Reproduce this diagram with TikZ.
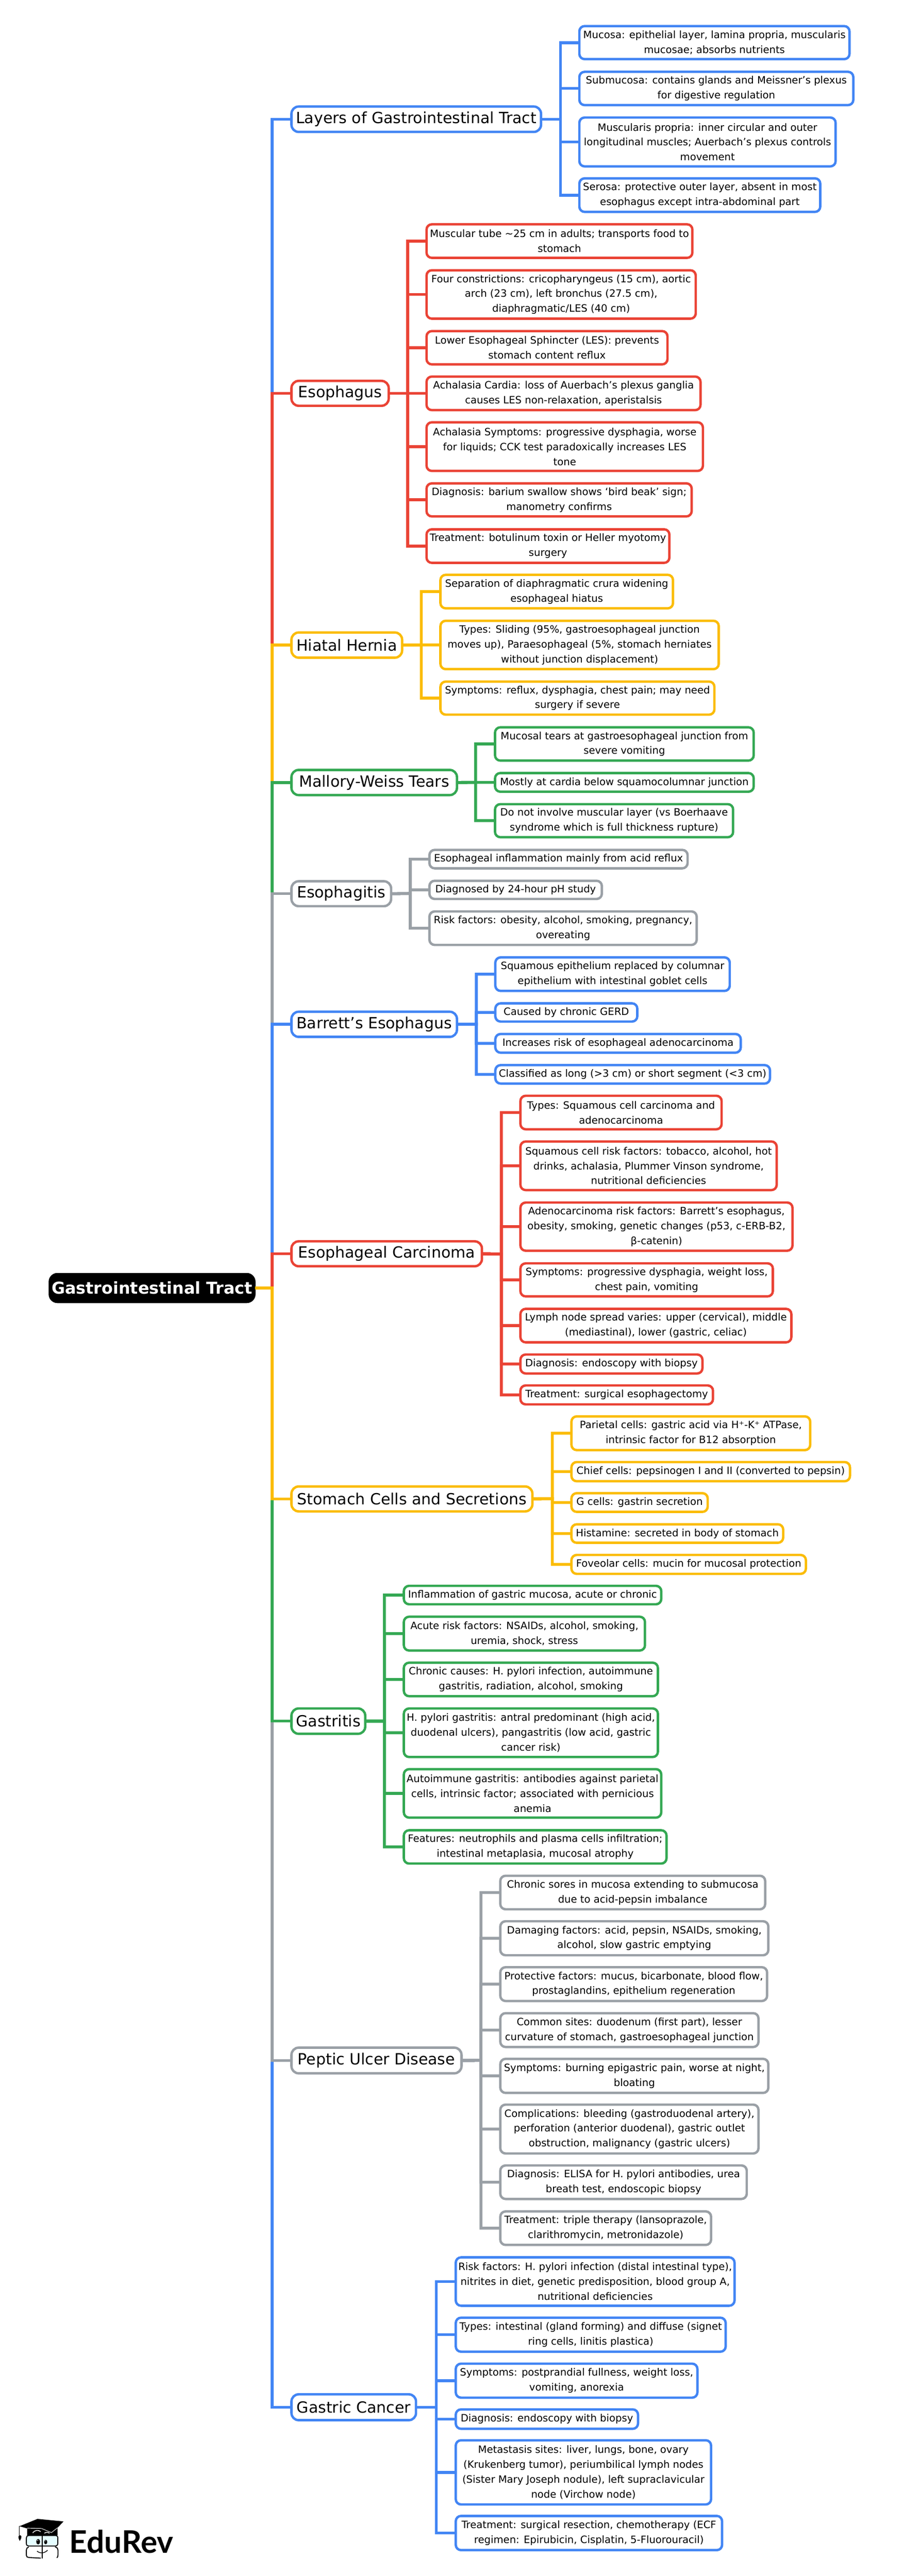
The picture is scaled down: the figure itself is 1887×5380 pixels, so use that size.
\documentclass[tikz,border=0pt]{standalone}
\usepackage{fontspec}
\setmainfont{DejaVu Sans}
\newfontfamily\logofont{Lato}
\definecolor{gblue}{HTML}{4285F4}
\definecolor{gred}{HTML}{EA4335}
\definecolor{gyellow}{HTML}{FBBC05}
\definecolor{ggreen}{HTML}{34A853}
\definecolor{ggray}{HTML}{9AA0A6}
\tikzset{
  basebox/.style={rectangle,rounded corners=11pt,line width=5pt,fill=white,inner sep=0pt,outer sep=0pt,align=center,text=black},
  leafbox/.style={basebox,font={\fontsize{21.1}{31}\selectfont}},
  headbox/.style={basebox,rounded corners=15pt,font={\fontsize{32.2}{38}\selectfont}},
  rootbox/.style={basebox,rounded corners=18pt,fill=black,text=white,line width=1pt,font={\fontsize{34.2}{40}\selectfont\bfseries}},
  lk/.style={line width=6pt,line join=miter,line cap=butt},
}
\newcommand{\mm}[8]{%
  \pgfmathsetmacro{\mmW}{#6-#4-5}%
  \pgfmathsetmacro{\mmH}{#7-#5-5}%
  \pgfmathsetmacro{\mmX}{(#4+#6)/2}%
  \pgfmathsetmacro{\mmY}{(#5+#7)/2}%
  \node[#1,draw=#2,minimum width=\mmW pt,minimum height=\mmH pt] (#3) at (\mmX,\mmY) {#8};}
\begin{document}
\begin{tikzpicture}[x=1pt,y=-1pt]
\useasboundingbox (0,0) rectangle (1887,5380);
% ---------- root and main branches
\node[rootbox,draw=black,minimum width=431pt,minimum height=62pt] (root) at (317.5,2690) {Gastrointestinal Tract};
\coordinate (tr) at (568,2690);
\mm{headbox}{gblue}{L}{606}{220}{1132}{278}{Layers of Gastrointestinal Tract}
\mm{headbox}{gred}{E}{606}{793}{814}{850}{Esophagus}
\mm{headbox}{gyellow}{H}{606}{1318.5}{842}{1376}{Hiatal Hernia}
\mm{headbox}{ggreen}{M}{606}{1605.5}{956.5}{1663}{Mallory-Weiss Tears}
\mm{headbox}{ggray}{G}{606}{1838}{819}{1895}{Esophagitis}
\mm{headbox}{gblue}{B}{606}{2110.5}{956.5}{2168}{Barrett’s Esophagus}
\mm{headbox}{gred}{C}{606}{2590}{1008.6}{2647}{Esophageal Carcinoma}
\mm{headbox}{gyellow}{S}{606}{3102}{1114}{3159}{Stomach Cells and Secretions}
\mm{headbox}{ggreen}{T}{606}{3565.6}{765}{3623.5}{Gastritis}
\mm{headbox}{ggray}{P}{606}{4274}{966}{4332.6}{Peptic Ulcer Disease}
\mm{headbox}{gblue}{R}{606}{4998}{871}{5057}{Gastric Cancer}
% ---------- leaves
\mm{leafbox}{gblue}{L1}{1207}{52}{1776}{126}{Mucosa: epithelial layer, lamina propria, muscularis\\mucosae; absorbs nutrients}
\mm{leafbox}{gblue}{L2}{1207}{147.5}{1784}{222}{Submucosa: contains glands and Meissner’s plexus\\for digestive regulation}
\mm{leafbox}{gblue}{L3}{1207}{243}{1747}{350}{Muscularis propria: inner circular and outer\\longitudinal muscles; Auerbach’s plexus controls\\movement}
\mm{leafbox}{gblue}{L4}{1207}{370}{1715}{445}{Serosa: protective outer layer, absent in most\\esophagus except intra-abdominal part}
\mm{leafbox}{gred}{E1}{888}{466}{1448}{541}{Muscular tube \textasciitilde25 cm in adults; transports food to\\stomach}
\mm{leafbox}{gred}{E2}{888}{562}{1455}{668}{Four constrictions: cricopharyngeus (15 cm), aortic\\arch (23 cm), left bronchus (27.5 cm),\\diaphragmatic/LES (40 cm)}
\mm{leafbox}{gred}{E3}{888}{689}{1396}{763.5}{Lower Esophageal Sphincter (LES): prevents\\stomach content reflux}
\mm{leafbox}{gred}{E4}{888}{784}{1465}{859}{Achalasia Cardia: loss of Auerbach’s plexus ganglia\\causes LES non-relaxation, aperistalsis}
\mm{leafbox}{gred}{E5}{888}{879.5}{1470}{986}{Achalasia Symptoms: progressive dysphagia, worse\\for liquids; CCK test paradoxically increases LES\\tone}
\mm{leafbox}{gred}{E6}{888}{1007}{1446.5}{1081}{Diagnosis: barium swallow shows ‘bird beak’ sign;\\manometry confirms}
\mm{leafbox}{gred}{E7}{888}{1103}{1400}{1178}{Treatment: botulinum toxin or Heller myotomy\\surgery}
\mm{leafbox}{gyellow}{H1}{917}{1198}{1407.5}{1273}{Separation of diaphragmatic crura widening\\esophageal hiatus}
\mm{leafbox}{gyellow}{H2}{917}{1294}{1503}{1400}{Types: Sliding (95\%, gastroesophageal junction\\moves up), Paraesophageal (5\%, stomach herniates\\without junction displacement)}
\mm{leafbox}{gyellow}{H3}{917}{1421}{1494}{1495}{Symptoms: reflux, dysphagia, chest pain; may need\\surgery if severe}
\mm{leafbox}{ggreen}{M1}{1031}{1516.5}{1576}{1591}{Mucosal tears at gastroesophageal junction from\\severe vomiting}
\mm{leafbox}{ggreen}{M2}{1031}{1612}{1576}{1656}{Mostly at cardia below squamocolumnar junction}
\mm{leafbox}{ggreen}{M3}{1031}{1677}{1533}{1751}{Do not involve muscular layer (vs Boerhaave\\syndrome which is full thickness rupture)}
\mm{leafbox}{ggray}{G1}{894}{1772.5}{1438}{1816}{Esophageal inflammation mainly from acid reflux}
\mm{leafbox}{ggray}{G2}{894}{1837}{1259}{1880}{Diagnosed by 24-hour pH study}
\mm{leafbox}{ggray}{G3}{894}{1901}{1457}{1976}{Risk factors: obesity, alcohol, smoking, pregnancy,\\overeating}
\mm{leafbox}{gblue}{B1}{1031.6}{1997}{1526}{2072}{Squamous epithelium replaced by columnar\\epithelium with intestinal goblet cells}
\mm{leafbox}{gblue}{B2}{1031.6}{2093}{1333}{2136}{Caused by chronic GERD}
\mm{leafbox}{gblue}{B3}{1031.6}{2157}{1549}{2201}{Increases risk of esophageal adenocarcinoma}
\mm{leafbox}{gblue}{B4}{1031.6}{2222}{1610}{2265.5}{Classified as long (>3 cm) or short segment (<3 cm)}
\mm{leafbox}{gred}{C1}{1084}{2286}{1509}{2361}{Types: Squamous cell carcinoma and\\adenocarcinoma}
\mm{leafbox}{gred}{C2}{1084}{2381.5}{1624}{2488}{Squamous cell risk factors: tobacco, alcohol, hot\\drinks, achalasia, Plummer Vinson syndrome,\\nutritional deficiencies}
\mm{leafbox}{gred}{C3}{1084}{2509}{1657}{2614.6}{Adenocarcinoma risk factors: Barrett’s esophagus,\\obesity, smoking, genetic changes (p53, c-ERB-B2,\\β-catenin)}
\mm{leafbox}{gred}{C4}{1084}{2636}{1616}{2710}{Symptoms: progressive dysphagia, weight loss,\\chest pain, vomiting}
\mm{leafbox}{gred}{C5}{1084}{2731}{1654.6}{2806}{Lymph node spread varies: upper (cervical), middle\\(mediastinal), lower (gastric, celiac)}
\mm{leafbox}{gred}{C6}{1084}{2826.4}{1469}{2871}{Diagnosis: endoscopy with biopsy}
\mm{leafbox}{gred}{C7}{1084}{2891}{1491}{2935.5}{Treatment: surgical esophagectomy}
\mm{leafbox}{gyellow}{S1}{1190.5}{2955.6}{1694}{3031}{Parietal cells: gastric acid via H⁺-K⁺ ATPase,\\intrinsic factor for B12 absorption}
\mm{leafbox}{gyellow}{S2}{1190.5}{3051}{1777}{3096}{Chief cells: pepsinogen I and II (converted to pepsin)}
\mm{leafbox}{gyellow}{S3}{1190.5}{3116}{1480}{3160}{G cells: gastrin secretion}
\mm{leafbox}{gyellow}{S4}{1190.5}{3181}{1637.6}{3224.6}{Histamine: secreted in body of stomach}
\mm{leafbox}{gyellow}{S5}{1190.5}{3245}{1685}{3289.5}{Foveolar cells: mucin for mucosal protection}
\mm{leafbox}{ggreen}{T1}{840.6}{3309.5}{1383}{3353}{Inflammation of gastric mucosa, acute or chronic}
\mm{leafbox}{ggreen}{T2}{840.6}{3374}{1349}{3449.6}{Acute risk factors: NSAIDs, alcohol, smoking,\\uremia, shock, stress}
\mm{leafbox}{ggreen}{T3}{840.6}{3470}{1376}{3545}{Chronic causes: H. pylori infection, autoimmune\\gastritis, radiation, alcohol, smoking}
\mm{leafbox}{ggreen}{T4}{840.6}{3565.6}{1376}{3672}{H. pylori gastritis: antral predominant (high acid,\\duodenal ulcers), pangastritis (low acid, gastric\\cancer risk)}
\mm{leafbox}{ggreen}{T5}{840.6}{3692.4}{1383}{3798.6}{Autoimmune gastritis: antibodies against parietal\\cells, intrinsic factor; associated with pernicious\\anemia}
\mm{leafbox}{ggreen}{T6}{840.6}{3820}{1394}{3894.5}{Features: neutrophils and plasma cells infiltration;\\intestinal metaplasia, mucosal atrophy}
\mm{leafbox}{ggray}{P1}{1042}{3915}{1600}{3990}{Chronic sores in mucosa extending to submucosa\\due to acid-pepsin imbalance}
\mm{leafbox}{ggray}{P2}{1042}{4010}{1606.6}{4086}{Damaging factors: acid, pepsin, NSAIDs, smoking,\\alcohol, slow gastric emptying}
\mm{leafbox}{ggray}{P3}{1042}{4106}{1604}{4181.6}{Protective factors: mucus, bicarbonate, blood flow,\\prostaglandins, epithelium regeneration}
\mm{leafbox}{ggray}{P4}{1042}{4202}{1586}{4277.6}{Common sites: duodenum (first part), lesser\\curvature of stomach, gastroesophageal junction}
\mm{leafbox}{ggray}{P5}{1042}{4297.4}{1606.6}{4373.5}{Symptoms: burning epigastric pain, worse at night,\\bloating}
\mm{leafbox}{ggray}{P6}{1042}{4393}{1586}{4500}{Complications: bleeding (gastroduodenal artery),\\perforation (anterior duodenal), gastric outlet\\obstruction, malignancy (gastric ulcers)}
\mm{leafbox}{ggray}{P7}{1042}{4520}{1561.5}{4595}{Diagnosis: ELISA for H. pylori antibodies, urea\\breath test, endoscopic biopsy}
\mm{leafbox}{ggray}{P8}{1042}{4616}{1487}{4691}{Treatment: triple therapy (lansoprazole,\\clarithromycin, metronidazole)}
\mm{leafbox}{gblue}{R1}{949}{4712}{1536}{4818}{Risk factors: H. pylori infection (distal intestinal type),\\nitrites in diet, genetic predisposition, blood group A,\\nutritional deficiencies}
\mm{leafbox}{gblue}{R2}{949}{4838}{1517.5}{4914}{Types: intestinal (gland forming) and diffuse (signet\\ring cells, linitis plastica)}
\mm{leafbox}{gblue}{R3}{949}{4934}{1458.5}{5010}{Symptoms: postprandial fullness, weight loss,\\vomiting, anorexia}
\mm{leafbox}{gblue}{R4}{949}{5029.5}{1334.5}{5075}{Diagnosis: endoscopy with biopsy}
\mm{leafbox}{gblue}{R5}{949}{5094}{1487}{5233}{Metastasis sites: liver, lungs, bone, ovary\\(Krukenberg tumor), periumbilical lymph nodes\\(Sister Mary Joseph nodule), left supraclavicular\\node (Virchow node)}
\mm{leafbox}{gblue}{R6}{949}{5252}{1510}{5328.4}{Treatment: surgical resection, chemotherapy (ECF\\regimen: Epirubicin, Cisplatin, 5-Fluorouracil)}
% ---------- main trunk: upper branches top-down, lower branches bottom-up
\foreach \c/\k in {L/gblue,E/gred,H/gyellow,M/ggreen,G/ggray,B/gblue,C/gred,R/gblue,P/ggray,T/ggreen,S/gyellow}
  \draw[lk,draw=\k] (root.east) -- (tr) -- (tr |- \c.west) -- (\c.west);
% ---------- sub-branches
\coordinate (Lb) at (1170,249);
\foreach \c in {L1,L2,L3,L4} \draw[lk,gblue] (L.east) -- (Lb) -- (Lb |- \c.west) -- (\c.west);
\coordinate (Eb) at (851,821.5);
\foreach \c in {E1,E2,E3,E4,E5,E6,E7} \draw[lk,gred] (E.east) -- (Eb) -- (Eb |- \c.west) -- (\c.west);
\coordinate (Hb) at (879.5,1347);
\foreach \c in {H1,H2,H3} \draw[lk,gyellow] (H.east) -- (Hb) -- (Hb |- \c.west) -- (\c.west);
\coordinate (Mb) at (993,1634);
\foreach \c in {M1,M2,M3} \draw[lk,ggreen] (M.east) -- (Mb) -- (Mb |- \c.west) -- (\c.west);
\coordinate (Gb) at (856.5,1866);
\foreach \c in {G1,G2,G3} \draw[lk,ggray] (G.east) -- (Gb) -- (Gb |- \c.west) -- (\c.west);
\coordinate (Bb) at (994.5,2139);
\foreach \c in {B1,B2,B3,B4} \draw[lk,gblue] (B.east) -- (Bb) -- (Bb |- \c.west) -- (\c.west);
\coordinate (Cb) at (1046.7,2619);
\foreach \c in {C1,C2,C3,C4,C5,C6,C7} \draw[lk,gred] (C.east) -- (Cb) -- (Cb |- \c.west) -- (\c.west);
\coordinate (Sb) at (1153,3130);
\foreach \c in {S1,S2,S3,S4,S5} \draw[lk,gyellow] (S.east) -- (Sb) -- (Sb |- \c.west) -- (\c.west);
\coordinate (Tb) at (802.5,3594.5);
\foreach \c in {T1,T2,T3,T4,T5,T6} \draw[lk,ggreen] (T.east) -- (Tb) -- (Tb |- \c.west) -- (\c.west);
\coordinate (Pb) at (1004,4303);
\foreach \c in {P1,P2,P3,P4,P5,P6,P7,P8} \draw[lk,ggray] (P.east) -- (Pb) -- (Pb |- \c.west) -- (\c.west);
\coordinate (Rb) at (911,5027.5);
\foreach \c in {R1,R2,R3,R4,R5,R6} \draw[lk,gblue] (R.east) -- (Rb) -- (Rb |- \c.west) -- (\c.west);
% ---------- logo
\node[anchor=base west,inner sep=0pt,font={\fontsize{65}{70}\selectfont\logofont\bfseries}] (logo) at (145,5331.7) {EduRev};
\begin{scope}[shift={(20,5240)},x=0.3333pt,y=-0.3333pt]
  \fill[black] (62,108) -- (175,62) -- (338,78) -- (300,118) -- (300,165) -- (110,165) -- (110,122) -- cycle;
  \draw[white,line width=1pt] (110,120) -- (200,122) -- (262,148) -- (300,118);
  \draw[white,line width=1.5pt] (145,150) .. controls (160,130) and (180,130) .. (195,142);
  \draw[white,line width=1.5pt] (218,152) .. controls (228,144) and (240,144) .. (250,152);
  \draw[black,line width=1pt] (62,108) -- (62,165);
  \fill[black] (56,172) .. controls (60,162) and (70,162) .. (74,172) .. controls (74,185) and (68,192) .. (64,200) .. controls (60,192) and (55,185) .. (56,172) -- cycle;
  \draw[black,line width=2pt,fill=blue!8!cyan!10] (120,166) -- (285,166) .. controls (298,166) and (302,172) .. (302,182) -- (302,215) .. controls (302,226) and (296,232) .. (285,232) -- (120,232) .. controls (110,232) and (105,226) .. (105,215) -- (105,182) .. controls (105,172) and (110,166) .. (120,166) -- cycle;
  \draw[black,line width=2pt] (120,238) .. controls (110,240) and (105,248) .. (105,258) -- (105,290) .. controls (105,300) and (112,304) .. (122,304) -- (195,308);
  \draw[black,line width=2pt] (285,238) .. controls (298,240) and (303,248) .. (303,258) -- (303,290) .. controls (303,298) and (300,302) .. (296,306);
  \draw[black,line width=2.5pt] (205,160) -- (205,310);
  \fill[black] (179,205) ellipse [x radius=12,y radius=17];
  \fill[black] (226,207) ellipse [x radius=10,y radius=14];
  \fill[white] (176,197) circle (3);
  \fill[white] (223,200) circle (3);
  \draw[black,line width=1.5pt] (172,264) .. controls (190,280) and (220,278) .. (238,258);
\end{scope}
\end{tikzpicture}
\end{document}
